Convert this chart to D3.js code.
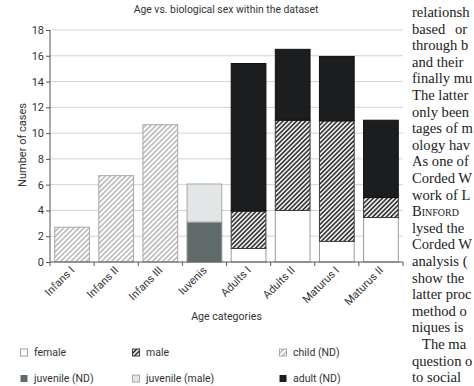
<!DOCTYPE html>
<html>
<head>
<meta charset="utf-8">
<script src="https://cdn.jsdelivr.net/npm/d3@7"></script>
<style>
  html, body { margin: 0; padding: 0; background: #fff; }
  svg { display: block; }
</style>
</head>
<body>
<div id="chart"></div>
<script>
var categories = ['Infans I', 'Infans II', 'Infans III', 'Iuvenis', 'Adults I', 'Adults II', 'Maturus I', 'Maturus II'];
var female = [0, 0, 0, 0, 1.05, 4, 1.6, 3.45];
var male = [0, 0, 0, 0, 2.9, 7, 9.35, 1.55];
var childND = [2.7, 6.7, 10.65, 0, 0, 0, 0, 0];
var juvenileND = [0, 0, 0, 3.1, 0, 0, 0, 0];
var juvenileMale = [0, 0, 0, 2.95, 0, 0, 0, 0];
var adultND = [0, 0, 0, 0, 11.45, 5.5, 5, 6];
var yTicks = [0, 2, 4, 6, 8, 10, 12, 14, 16, 18];
var seriesNames = ['female', 'male', 'child (ND)', 'juvenile (ND)', 'juvenile (male)', 'adult (ND)'];
var sideText = ['relationsh', 'based  or', 'through b', 'and their', 'finally mu', 'The latter', 'only been', 'tages of m',
  'ology hav', 'As one of', 'Corded W', 'work of L', 'Binford', 'lysed the', 'Corded W', 'analysis (N', 'show the',
  'latter proc', 'method o', 'niques is u', 'The ma', 'question o', 'to social'];

var series = [female, male, childND, juvenileND, juvenileMale, adultND];
var fills = ['#fff', 'url(#hatchMale)', 'url(#hatchChild)', '#5f6b6b', '#e3e6e7', '#1b1d1e'];
var strokes = ['#9a9a9a', '#3a3a3a', '#a8a8a8', '#8a9090', '#a8a8a8', '#111'];

function Chart(container) {
    this.container = container;
    this.width = 474;
    this.height = 386;
    this.plot = { left: 50, right: 403, top: 30, bottom: 262 };
    this.svg = this.create();
    this.defs();
    this.x = d3.scaleBand().domain(categories).range([this.plot.left, this.plot.right])
        .paddingInner(0.19).paddingOuter(0.095);
    this.y = d3.scaleLinear().domain([0, 18]).range([this.plot.bottom, this.plot.top]);
    this.grid();
    this.bars();
    this.axes();
    this.labels();
    this.legend();
    this.text();
}

Chart.prototype.create = function() {
    return d3.select(this.container).append('svg')
        .attr('width', this.width)
        .attr('height', this.height)
        .style('font-family', 'Roboto, sans-serif');
};

Chart.prototype.defs = function() {
    var defs = this.svg.append('defs');
    var child = defs.append('pattern').attr('id', 'hatchChild')
        .attr('patternUnits', 'userSpaceOnUse').attr('width', 3.6).attr('height', 3.6)
        .attr('patternTransform', 'rotate(45)');
    child.append('rect').attr('width', 3.6).attr('height', 3.6).attr('fill', '#fff');
    child.append('line').attr('x1', 1).attr('x2', 1).attr('y1', 0).attr('y2', 3.6)
        .attr('stroke', '#a9a9a9').attr('stroke-width', 1.3);
    var m = defs.append('pattern').attr('id', 'hatchMale')
        .attr('patternUnits', 'userSpaceOnUse').attr('width', 3.2).attr('height', 3.2)
        .attr('patternTransform', 'rotate(45)');
    m.append('rect').attr('width', 3.2).attr('height', 3.2).attr('fill', '#fff');
    m.append('line').attr('x1', 1).attr('x2', 1).attr('y1', 0).attr('y2', 3.2)
        .attr('stroke', '#1a1a1a').attr('stroke-width', 1.5);
};

Chart.prototype.grid = function() {
    var self = this;
    this.svg.append('g').attr('class', 'grid')
        .selectAll('line').data(yTicks.slice(1)).join('line')
        .attr('x1', this.plot.left).attr('x2', this.plot.right)
        .attr('y1', function(d) { return self.y(d); })
        .attr('y2', function(d) { return self.y(d); })
        .attr('stroke', '#d2d2d2').attr('stroke-width', 1);
};

Chart.prototype.bars = function() {
    var self = this;
    var rows = categories.map(function(c, i) {
        var row = { category: c };
        series.forEach(function(s, k) { row[k] = s[i]; });
        return row;
    });
    var stacked = d3.stack().keys(d3.range(series.length))(rows);
    this.svg.append('g').attr('class', 'bars')
        .selectAll('g').data(stacked).join('g')
        .attr('fill', function(d) { return fills[d.key]; })
        .attr('stroke', function(d) { return strokes[d.key]; })
        .attr('stroke-width', 1)
        .selectAll('rect').data(function(d) { return d.filter(function(v) { return v[1] - v[0] > 0; }); }).join('rect')
        .attr('x', function(d) { return self.x(d.data.category) + 0.5; })
        .attr('width', this.x.bandwidth() - 1)
        .attr('y', function(d) { return self.y(d[1]); })
        .attr('height', function(d) { return self.y(d[0]) - self.y(d[1]); });
};

Chart.prototype.axes = function() {
    var self = this;
    var yAxis = this.svg.append('g').attr('transform', 'translate(' + this.plot.left + ',0)')
        .call(d3.axisLeft(this.y).tickValues(yTicks).tickSize(4).tickPadding(2));
    yAxis.select('.domain').attr('stroke', '#555').attr('d', 'M0,' + this.plot.top + 'V' + this.plot.bottom);
    yAxis.selectAll('.tick line').attr('stroke', '#555');
    yAxis.selectAll('.tick text').attr('fill', '#333').style('font-size', '11px').style('font-family', 'Roboto, sans-serif');

    var step = this.x.step();
    var bounds = d3.range(categories.length + 1).map(function(i) { return self.plot.left + i * step; });
    var xAxis = this.svg.append('g').attr('transform', 'translate(0,' + this.plot.bottom + ')');
    xAxis.append('line').attr('x1', this.plot.left).attr('x2', this.plot.right)
        .attr('stroke', '#555');
    xAxis.selectAll('line.tk').data(bounds).join('line').attr('class', 'tk')
        .attr('x1', function(d) { return d; }).attr('x2', function(d) { return d; })
        .attr('y1', 0).attr('y2', 4).attr('stroke', '#555');
    xAxis.selectAll('text').data(categories).join('text')
        .attr('transform', function(d) {
            return 'translate(' + (self.x(d) + self.x.bandwidth() / 2 + 3) + ',9) rotate(-45)';
        })
        .attr('text-anchor', 'end')
        .attr('fill', '#333')
        .style('font-size', '11px')
        .text(function(d) { return d; });
};

Chart.prototype.labels = function() {
    this.svg.append('text').attr('x', 226).attr('y', 12.5).attr('text-anchor', 'middle')
        .attr('fill', '#333').style('font-size', '10.4px')
        .text('Age vs. biological sex within the dataset');
    this.svg.append('text').attr('transform', 'translate(26,145) rotate(-90)').attr('text-anchor', 'middle')
        .attr('fill', '#333').style('font-size', '11px')
        .text('Number of cases');
    this.svg.append('text').attr('x', 226.5).attr('y', 319.5).attr('text-anchor', 'middle')
        .attr('fill', '#333').style('font-size', '10.6px')
        .text('Age categories');
};

Chart.prototype.legend = function() {
    var cols = [20, 132, 279];
    var rowsY = [352.5, 378.5];
    var items = this.svg.append('g').attr('class', 'legend')
        .selectAll('g').data(seriesNames).join('g')
        .attr('transform', function(d, i) {
            return 'translate(' + cols[i % 3] + ',' + rowsY[Math.floor(i / 3)] + ')';
        });
    items.append('rect').attr('x', 0.5).attr('y', -3.5).attr('width', 7).attr('height', 7)
        .attr('fill', function(d, i) { return fills[i]; })
        .attr('stroke', function(d, i) { return i === 5 || i === 3 ? 'none' : strokes[i]; });
    items.append('text').attr('x', 14).attr('y', 3.8)
        .attr('fill', '#333').style('font-size', '10.5px')
        .text(function(d) { return d; });
};

Chart.prototype.text = function() {
    var edge = this.width;
    this.svg.append('g').attr('class', 'side')
        .style('font-family', '"Liberation Serif", serif').style('font-size', '14.6px')
        .selectAll('text').data(sideText).join('text')
        .attr('x', function(d, i) { return i === 20 ? 422 : 412; })
        .attr('y', function(d, i) { return 17 + i * 16.6; })
        .attr('fill', '#222')
        .style('font-variant', function(d, i) { return i === 12 ? 'small-caps' : 'normal'; })
        .style('word-spacing', function(d, i) { return i === 1 ? '6px' : '0'; })
        .text(function(d) { return d; })
        .each(function() {
            // the column runs off the page edge; keep only what fits
            var t = d3.select(this);
            var x = +t.attr('x');
            var s = t.text();
            while (s.length && x + this.getComputedTextLength() > edge) {
                s = s.slice(0, -1);
                t.text(s);
            }
        });
};

new Chart('#chart');
</script>
</body>
</html>
